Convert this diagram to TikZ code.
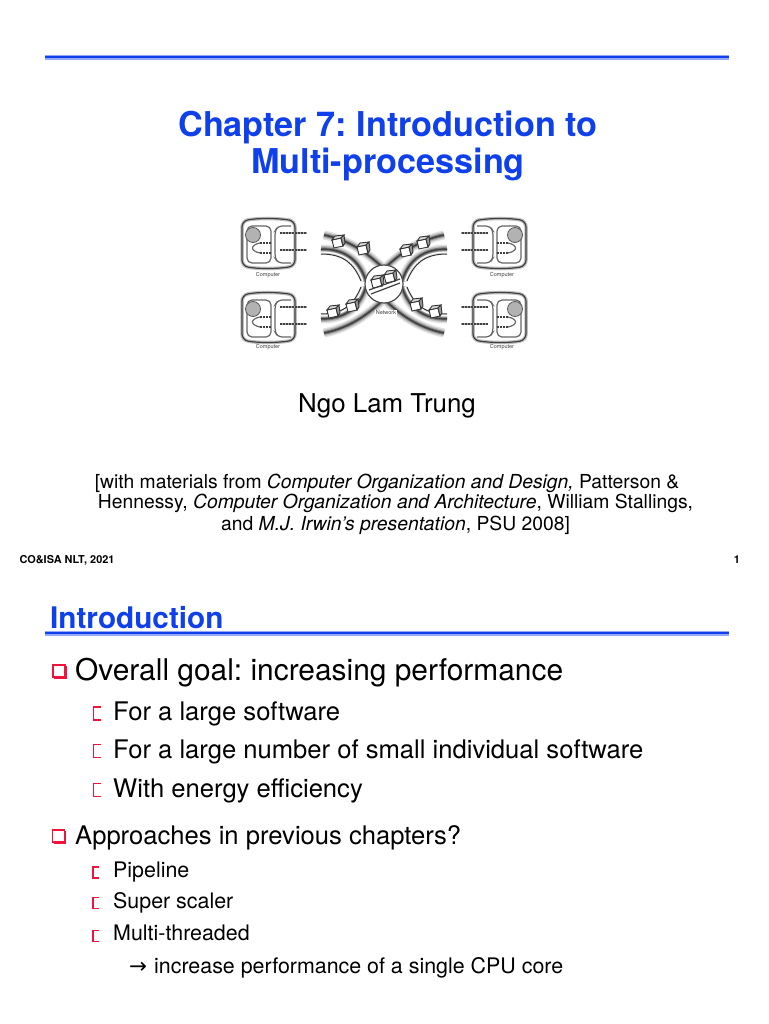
\documentclass[tikz,border=0pt]{standalone}
\usepackage{fontspec}
\setmainfont{TeX Gyre Heros}
\newfontfamily\arrowfont{DejaVu Sans}
\definecolor{slideblue}{RGB}{16,64,235}
\definecolor{slidered}{RGB}{240,20,60}
\usetikzlibrary{positioning}
\tikzset{
  rulehalo/.style={line width=5pt,color=slideblue!45},
  rulecore/.style={line width=2pt,color=slideblue},
  titletext/.style={anchor=base,inner sep=0pt,text=slideblue,font=\bfseries\fontsize{34.2}{36.5}\selectfont},
  headtext/.style={anchor=base west,inner sep=0pt,text=slideblue,font=\bfseries\fontsize{29.7}{32}\selectfont},
  footertext/.style={anchor=base,inner sep=0pt,font=\bfseries\fontsize{10.9}{12}\selectfont},
  credittext/.style={anchor=base,inner sep=0pt,font=\fontsize{19.3}{21}\selectfont},
  leveltext/.style={anchor=base west,inner sep=0pt,font=\fontsize{29.9}{32}\selectfont},
  subtext/.style={anchor=base west,inner sep=0pt,font=\fontsize{25.6}{28}\selectfont},
  smalltext/.style={anchor=base west,inner sep=0pt,font=\fontsize{21.4}{24}\selectfont},
  iconlabel/.style={inner sep=0pt,text=black!75,font=\fontsize{5.5}{6}\selectfont},
  pics/boxbullet/.style={code={
      \draw[slidered,line width=1.4pt,fill=white] (-6.5,-6.5) rectangle (5.5,5.5);
      \draw[slidered,line width=2.6pt] (-5.5,6) -- (6,6) -- (6,-5.5);
  }},
  pics/subbullet/.style={code={
      \draw[slidered,line width=1.1pt] (3.5,-6.5) -- (-3.5,-6.5) -- (-3.5,6.5) -- (3.5,6.5);
  }},
  pics/smallbullet/.style={code={
      \draw[slidered,line width=1.1pt] (3,-5.5) -- (-3,-5.5) -- (-3,5.5) -- (3,5.5);
  }},
  pics/cube/.style={code={
      \draw[black!80,fill=white,line width=.9pt] (-6,-2) -- (3,-4) -- (5,4) -- (-4,6) -- cycle;
      \draw[black!80,fill=black!15,line width=.9pt] (-6,-2) -- (-3,-6) -- (6,-7) -- (3,-4) -- cycle;
      \draw[black!80,fill=black!40,line width=.9pt] (3,-4) -- (6,-7) -- (7,1) -- (5,4) -- cycle;
  }},
  pics/computer/.style={code={
      % case, then the two halves inside it
      \draw[black!25,line width=3.5pt,rounded corners=6pt] (2,3) .. controls (18,0) and (37,0) .. (55,3) -- (55,48) .. controls (37,51) and (18,51) .. (2,48) -- cycle;
      \draw[black!75,line width=1.2pt,rounded corners=6pt] (2,3) .. controls (18,0) and (37,0) .. (55,3) -- (55,48) .. controls (37,51) and (18,51) .. (2,48) -- cycle;
      \draw[black!60,line width=1.2pt,rounded corners=5pt] (7,8) -- (31,8) -- (31,45) -- (7,45) -- cycle;
      \draw[black!60,line width=1.2pt,rounded corners=4pt] (51,8) -- (38,8) -- (35,13) -- (35,40) -- (38,45) -- (51,45);
      \draw[black!65,fill=black!30,line width=.8pt] (13,17) circle (7.5);
      \draw[black!35,line width=2.5pt] (40,15) -- (67,15);
      \draw[black!75,line width=1.6pt,dash pattern=on 2pt off 1pt] (40,15) -- (66,15);
      \draw[black!35,line width=2.5pt] (40,32) -- (67,32);
      \draw[black!75,line width=1.6pt,dash pattern=on 2pt off 1pt] (40,32) -- (66,32);
      \draw[black!75,line width=2pt,dash pattern=on 2pt off 1pt] (20,25) -- (32,25);
      \draw[black!75,line width=2pt,dash pattern=on 2pt off 1pt] (20,35) -- (32,35);
      \draw[black!60,line width=1.2pt] (20,25) .. controls (10,27) and (10,33) .. (20,35);
  }},
}
\begin{document}
\begin{tikzpicture}[x=1pt,y=-1pt]
  \useasboundingbox (0,0) rectangle (768,1024);
  \fill[white] (0,0) rectangle (768,1024);
  \frenchspacing

  % top of the slides
  \coordinate (topl) at (45,57.5);
  \coordinate (topr) at (729,57.5);
  \draw[rulehalo] (topl) -- (topr);
  \draw[rulecore] (topl) -- (topr);
  \node[titletext] (chapa) at (388,137) {Chapter 7: Introduction to};
  \node[titletext] (chapb) at (388,173.5) {Multi-processing};

  % the network picture
  \foreach \nx/\ny/\nm/\sx in {240/218/ca/1,240/292/cb/1,528/218/cc/-1,528/292/cd/-1}
    \pic[xscale=\sx] (\nm) at (\nx,\ny) {computer};
  \node[iconlabel] (labca) at (268,275) {Computer};
  \node[iconlabel] (labcb) at (268,347.5) {Computer};
  \node[iconlabel] (labcc) at (502,275) {Computer};
  \node[iconlabel] (labcd) at (502,347.5) {Computer};
  \foreach \sx in {-1,1} \foreach \sy in {-1,1} {
    \begin{scope}[shift={(384,284)},xscale=\sx,yscale=\sy]
      \foreach \wd/\sh in {9/12,6/28,3.5/50,1.5/75} {
        \draw[black!\sh,line width=\wd pt] (60,-49) .. controls (40,-45) and (20,-35) .. (0,-15);
        \draw[black!\sh,line width=\wd pt] (63,-35) .. controls (40,-35) and (25,-25) .. (18,-3);
      }
      \draw[white,line width=1pt] (63,-32) .. controls (40,-32) and (28,-22) .. (21,-3);
      \draw[black!80,line width=1pt] (63,-30) .. controls (40,-30) and (30,-20) .. (23,-3);
    \end{scope}
  }
  \node[draw=black!70,circle,minimum size=38pt,inner sep=0pt,fill=white,line width=1.2pt] (hub) at (384,284) {};
  \pic (cubea) at (338,242) {cube};
  \pic (cubeb) at (363,249) {cube};
  \pic (cubec) at (406,251) {cube};
  \pic (cubed) at (423,243) {cube};
  \pic (cubee) at (333,312) {cube};
  \pic (cubef) at (352,306) {cube};
  \pic (cubeg) at (416,305) {cube};
  \pic (cubeh) at (435,312) {cube};
  \pic (cubei) at (377,282) {cube};
  \pic (cubej) at (390,277) {cube};
  \coordinate (traya) at (369,290);
  \coordinate (trayb) at (400,279);
  \coordinate (trayc) at (371,294);
  \coordinate (trayd) at (400,283);
  \draw[black!75,line width=1.2pt] (traya) -- (trayb);
  \draw[black!75,line width=1.2pt] (trayc) -- (trayd);
  \node[iconlabel,fill=white,inner sep=.5pt] (labnet) at (386,313) {Network};

  % author and credits
  \node[anchor=base,inner sep=0pt,font=\fontsize{25.9}{28}\selectfont] (authorname) at (387,412) {Ngo Lam Trung};
  \node[credittext] (credita) at (387,488) {[with materials from \textit{Computer Organization and Design,} Patterson \&};
  \node[credittext] (creditb) at (395.5,508) {Hennessy, \textit{Computer Organization and Architecture}, William Stallings,};
  \node[credittext] (creditc) at (395.5,530) {and \textit{M.J. Irwin’s presentation}, PSU 2008]};
  \node[footertext] (footl) at (67,563) {CO\&ISA NLT, 2021};
  \node[footertext] (footr) at (737,563) {1};

  % the second slide
  \node[headtext] (introhead) at (50,628) {Introduction};
  \coordinate (midl) at (45,633);
  \coordinate (midr) at (729,633);
  \draw[rulehalo] (midl) -- (midr);
  \draw[rulecore] (midl) -- (midr);

  \pic at (59.5,671.5) {boxbullet};
  \node[leveltext] (goal) at (75,680) {Overall goal: increasing performance};
  \pic at (97,713.5) {subbullet};
  \node[subtext] (suba) at (113,720) {For a large software};
  \pic at (97,751) {subbullet};
  \node[subtext] (subb) at (113,758) {For a large number of small individual software};
  \pic at (97,790) {subbullet};
  \node[subtext] (subc) at (113,797) {With energy efficiency};

  \pic at (59,836.5) {boxbullet};
  \node[subtext] (prev) at (75,844) {Approaches in previous chapters?};
  \pic at (96,872.5) {smallbullet};
  \node[smalltext] (suma) at (113,877) {Pipeline};
  \pic at (96,903) {smallbullet};
  \node[smalltext] (sumb) at (113,908) {Super scaler};
  \pic at (96,936) {smallbullet};
  \node[smalltext] (sumc) at (113,940) {Multi-threaded};
  \node[smalltext] (sumarrow) at (129,973) {\arrowfont→};
  \node[smalltext] (sumd) at (154,973) {increase performance of a single CPU core};
\end{tikzpicture}
\end{document}
